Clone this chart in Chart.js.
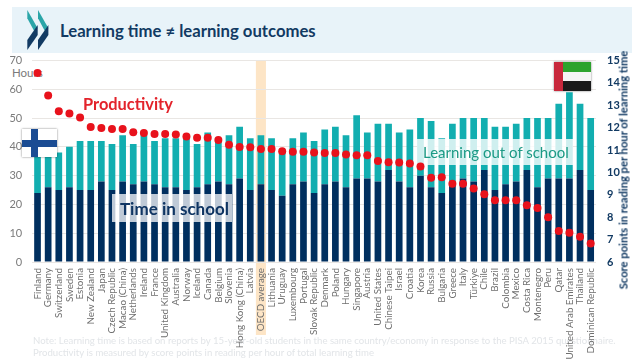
<!DOCTYPE html>
<html><head><meta charset="utf-8">
<script src="https://cdn.jsdelivr.net/npm/chart.js@4"></script>
<style>
html,body{margin:0;padding:0;background:#fff;width:638px;height:359px;overflow:hidden;font-family:Lato,sans-serif}
#wrap{position:relative;width:638px;height:359px}
#banner{position:absolute;left:12px;top:7px;width:620px;height:46px;background:#e8f3f9}
#title{position:absolute;left:60px;top:21px;font-size:16.7px;font-weight:700;color:#123a63;white-space:nowrap}
canvas{position:absolute;left:0;top:0}
.lbl{position:absolute;white-space:nowrap}
#prod{left:83px;top:94px;font-size:16.4px;font-weight:700;color:#e3232b}
#school{left:120px;top:198px;font-size:17px;font-weight:700;color:#0f3563}
#out{left:423px;top:143px;font-size:15px;font-weight:400;color:#1c9a85}
#hours{left:12px;top:66px;font-size:11.5px;color:#7b7b7b}
#rtitle{position:absolute;left:623px;top:170px;transform:translate(-50%,-50%) rotate(-90deg);font-size:11.2px;font-weight:700;color:#123a63;white-space:nowrap}
#note{position:absolute;left:33px;top:335px;font-size:9.6px;line-height:11.5px;color:#e2e5e8;white-space:nowrap;filter:blur(.3px)}
.flag{position:absolute;box-shadow:0 0 2px rgba(0,0,0,.5)}
#fi{left:22px;top:129px;width:35px;height:28px;background:#fff}
#fi i{position:absolute;background:#1b4c93}
#ae{left:554px;top:62px;width:37px;height:29px;background:linear-gradient(#2da32d 0 33%,#f4f4f4 33% 66%,#1a1a1a 66%)}
#ae i{position:absolute;left:0;top:0;width:9px;height:29px;background:#c8283c}
svg{position:absolute;left:26px;top:9px}
</style></head><body><div id="wrap">
<div id="banner"></div>
<svg width="24" height="44" viewBox="0 0 24 44">
<polygon points="1.3,1 11.7,19.3 8,21.7 1.3,9.3" fill="#2aa5a8"/><polygon points="12,1 22.4,19.3 18.7,21.7 12,9.3" fill="#2aa5a8"/>
<polygon points="11.7,16 11.7,26 1.3,41 1.3,31" fill="#123a63"/><polygon points="22.4,16 22.4,26 12,41 12,31" fill="#123a63"/>
</svg>
<div id="title">Learning time ≠ learning outcomes</div>
<div class="lbl" id="hours">Hours</div>
<div id="note">Note: Learning time is based on reports by 15-year-old students in the same country/economy in response to the PISA 2015 questionnaire.<br>Productivity is measured by score points in reading per hour of total learning time</div>
<canvas id="c" width="638" height="359"></canvas>
<div class="lbl" id="prod">Productivity</div>
<div class="lbl" id="school">Time in school</div>
<div class="lbl" id="out">Learning out of school</div>
<div id="rtitle">Score points in reading per hour of learning time</div>
<div class="flag" id="fi"><i style="left:9px;top:0;width:7px;height:28px"></i><i style="left:0;top:11px;width:35px;height:7px"></i></div>
<div class="flag" id="ae"><i></i></div>
</div>
<script>
const categories=["Finland","Germany","Switzerland","Sweden","Estonia","New Zealand","Japan","Czech Republic","Macao (China)","Netherlands","Ireland","France","United Kingdom","Australia","Norway","Iceland","Canada","Belgium","Slovenia","Hong Kong (China)","Latvia","OECD average","Lithuania","Uruguay","Luxembourg","Portugal","Slovak Republic","Denmark","Poland","Hungary","Singapore","Austria","United States","Chinese Taipei","Israel","Croatia","Korea","Russia","Bulgaria","Greece","Italy","Türkiye","Chile","Brazil","Colombia","Mexico","Costa Rica","Montenegro","Peru","Qatar","United Arab Emirates","Thailand","Dominican Republic"];
const timeInSchool=[24,26,25,26,25,25,28,25,28,27,28,27,26,26,25,26,27,28,27,29,25,27,25,23,27,28,24,27,28,26,29,29,28,32,28,26,30,26,24,28,29,28,32,25,27,28,32,26,29,29,29,32,25];
const outOfSchool=[14,14,13,14,17,17,14,16,16,14,16,15,17,17,18,15,18,14,17,18,18,17,18,15,16,17,18,19,19,18,22,16,20,16,17,20,20,23,19,20,21,22,18,22,20,20,18,24,21,26,30,23,25];
const productivity=[14.44,13.44,12.73,12.63,12.45,12.03,11.98,11.94,11.94,11.8,11.76,11.72,11.72,11.69,11.6,11.55,11.55,11.45,11.24,11.14,11.12,11.05,11.05,10.95,10.92,10.92,10.89,10.87,10.87,10.8,10.77,10.77,10.51,10.46,10.44,10.4,10.26,9.76,9.78,9.5,9.5,9.28,9.03,8.76,8.76,8.76,8.53,8.41,8,7.39,7.31,7.13,6.83];
const highlight="OECD average";
const decor={
 id:'decor',
 beforeDraw(ch){
  const g=ch.ctx,x=ch.scales.x,step=x.getPixelForValue(1)-x.getPixelForValue(0);
  g.save();g.fillStyle='#fde5c6';
  g.fillRect(x.getPixelForValue(categories.indexOf(highlight))-step/2+.3,ch.chartArea.top,step-.6,335-ch.chartArea.top);
  g.restore();
 },
 afterDatasetDraw(ch,a){
  if(a.index!==1)return;
  const g=ch.ctx;g.save();g.fillStyle='rgba(255,255,255,.75)';
  g.fillRect(112,194,120,28);
  g.fillStyle='rgba(255,255,255,.8)';
  g.fillRect(417,139,156,26);
  g.restore();
 }
};
new Chart(document.getElementById('c'),{
 data:{labels:categories,datasets:[
  {type:'line',data:productivity,yAxisID:'y2',order:0,showLine:false,pointRadius:4,pointHoverRadius:4,pointBackgroundColor:'#e8121c',pointBorderColor:'#e8121c',pointBorderWidth:0},
  {type:'bar',data:timeInSchool,yAxisID:'y',order:1,stack:'s',backgroundColor:'#002f5f',barPercentage:.63,categoryPercentage:1},
  {type:'bar',data:outOfSchool,yAxisID:'y',order:2,stack:'s',backgroundColor:'#12aeb0',barPercentage:.63,categoryPercentage:1}
 ]},
 options:{
  responsive:false,animation:false,
  layout:{padding:{top:60.5,left:0,right:0,bottom:0}},
  plugins:{legend:{display:false},tooltip:{enabled:false}},
  scales:{
   x:{stacked:true,grid:{display:false,drawTicks:false},border:{display:false},
      ticks:{autoSkip:false,minRotation:90,maxRotation:90,padding:6,font:{family:'Lato',size:9.8},color:'#6f6f6f'},
      afterFit(s){s.height=97}},
   y:{stacked:true,min:0,max:70,position:'left',border:{display:false},
      grid:{color:'#e9e6e3',drawTicks:false},
      ticks:{stepSize:10,padding:10,font:{family:'Lato',size:11},color:'#7b7b7b'},
      afterFit(s){s.width=32.2}},
   y2:{min:6,max:15,position:'right',border:{display:false},grid:{display:false,drawTicks:false},
      ticks:{stepSize:1,padding:11,font:{family:'Lato',size:11,weight:'bold'},color:'#123a63'},
      afterFit(s){s.width=42}}
  }
 },
 plugins:[decor]
});
</script></body></html>
